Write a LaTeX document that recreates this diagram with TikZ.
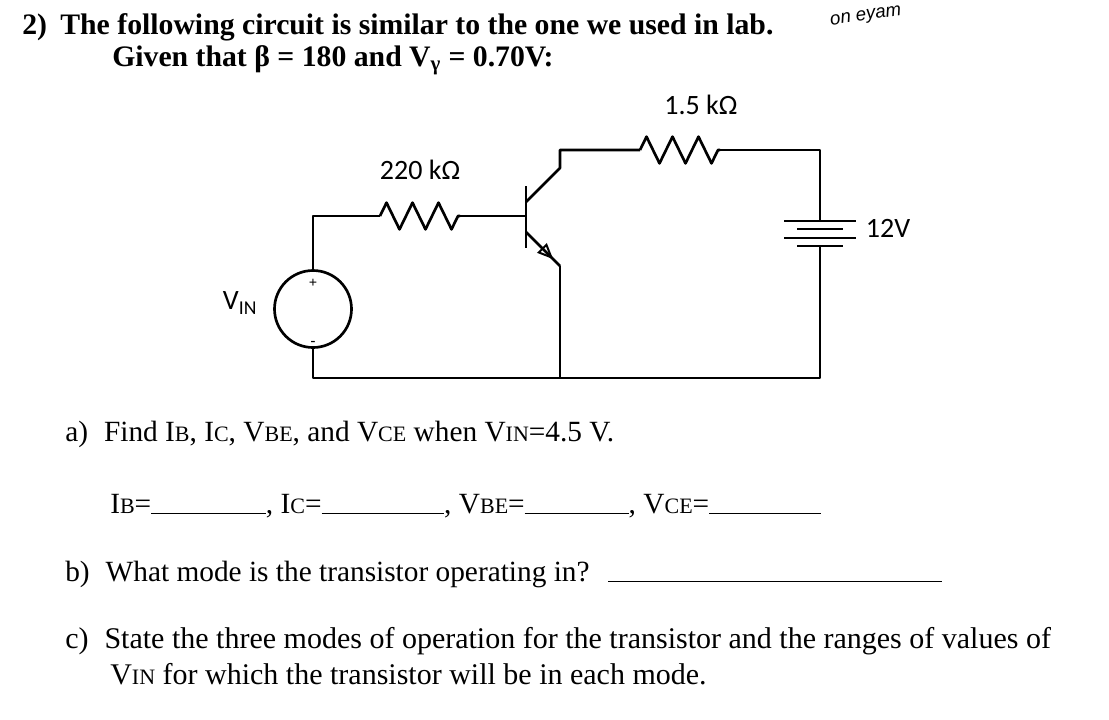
\documentclass[tikz,border=0pt]{standalone}
\usepackage{fontspec}
\setmainfont{Liberation Serif}
\newfontfamily\lblfont{Carlito}
\newfontfamily\handfont{Liberation Sans}
\usetikzlibrary{decorations.pathmorphing,decorations.markings,arrows.meta}
\newcommand{\sub}[1]{{\fontsize{16.5}{16.5}\selectfont #1}}
\begin{document}
\begin{tikzpicture}[x=0.75pt,y=-0.75pt,
  wire/.style={line width=2pt,line join=round},
  res/.style={wire,decorate,decoration={zigzag,segment length=19.5,amplitude=10}},
  body/.style={anchor=base west,inner sep=0pt,font=\fontsize{22}{22}\selectfont},
  lbl/.style={font=\lblfont\fontsize{21}{21}\selectfont,inner sep=0pt}]
\useasboundingbox (0,0) rectangle (1109,719);
\fill[white] (0,0) rectangle (1109,719);
% title
\node[body,font=\bfseries\fontsize{22.3}{22.3}\selectfont] (t1) at (22,34) {2)\hspace{10pt}The following circuit is similar to the one we used in lab.};
\node[body,font=\bfseries\fontsize{22.3}{22.3}\selectfont] (t2) at (112,66) {Given that β = 180 and V\textsubscript{γ} = 0.70V:};
\node[font=\handfont\itshape\fontsize{14}{14}\selectfont,rotate=8] (ex) at (866,17) {on eyam};
% coordinates
\coordinate (tl) at (313,216);
\coordinate (r1a) at (380,216);
\coordinate (r1b) at (460,216);
\coordinate (b) at (526,216);
\coordinate (bt) at (526,186);
\coordinate (bb) at (526,248);
\coordinate (c1) at (526,202);
\coordinate (c2) at (560,168);
\coordinate (c3) at (560,150);
\coordinate (r2a) at (640,150);
\coordinate (r2b) at (720,150);
\coordinate (tr) at (820,150);
\coordinate (bat1) at (820,221);
\coordinate (bat4) at (820,246);
\coordinate (br) at (820,378);
\coordinate (e1) at (526,232);
\coordinate (e2) at (560,266);
\coordinate (eb) at (560,378);
\coordinate (bl) at (313,378);
\node[draw,circle,line width=2pt,minimum size=77pt*0.75,inner sep=0pt] (src) at (313,309) {};
% wires
\draw[wire] (src.north) -- (tl) -- (r1a);
\draw[res] (r1a) -- (r1b);
\draw[wire] (r1b) -- (b);
\draw[wire] (bt) -- (bb);
\draw[wire] (c1) -- (c2) -- (c3) -- (r2a);
\draw[res] (r2a) -- (r2b);
\draw[wire] (r2b) -- (tr) -- (bat1);
\draw[wire] (bat4) -- (br) -- (bl) -- (src.south);
\draw[wire] (eb) -- (e2);
\draw[wire,postaction={decorate},decoration={markings,mark=at position 0.8 with {\arrow{Triangle[open,length=12pt,width=10pt,line width=1.5pt]}}}] (e1) -- (e2);
% battery
\draw[wire] (784,221) -- (856,221);
\draw[wire] (797,229) -- (843,229);
\draw[wire] (784,238) -- (856,238);
\draw[wire] (797,246) -- (843,246);
% source signs
\node[font=\bfseries\fontsize{11}{11}\selectfont,inner sep=0pt] (pl) at (313,283) {+};
\node[font=\bfseries\fontsize{11}{11}\selectfont,inner sep=0pt] (mi) at (313,343) {-};
% labels
\node[lbl] (l1) at (701,105) {1.5 kΩ};
\node[lbl] (l2) at (420,170) {220 kΩ};
\node[lbl] (l3) at (888,228) {12V};
\node[lbl] (l4) at (240,303) {V\textsubscript{IN}};
% questions
\node[body] (qa) at (65,441) {a)\hspace{12pt}Find I\sub{B}, I\sub{C}, V\sub{BE}, and V\sub{CE} when V\sub{IN}=4.5 V.};
\node[body] (qa2) at (110,513) {I\sub{B}=\rule[-1pt]{86pt}{0.7pt}, I\sub{C}=\rule[-1pt]{92pt}{0.7pt}, V\sub{BE}=\rule[-1pt]{78pt}{0.7pt}, V\sub{CE}=\rule[-1pt]{84pt}{0.7pt}};
\node[body] (qb) at (65,581) {b)\hspace{12pt}What mode is the transistor operating in?\hspace{14pt}\rule[-1pt]{250pt}{0.7pt}};
\node[body,font=\fontsize{22.5}{22.5}\selectfont] (qc) at (65,648) {c)\hspace{12pt}State the three modes of operation for the transistor and the ranges of values of};
\node[body,font=\fontsize{22.5}{22.5}\selectfont] (qc2) at (110,684) {V\sub{IN} for which the transistor will be in each mode.};
\end{tikzpicture}
\end{document}
